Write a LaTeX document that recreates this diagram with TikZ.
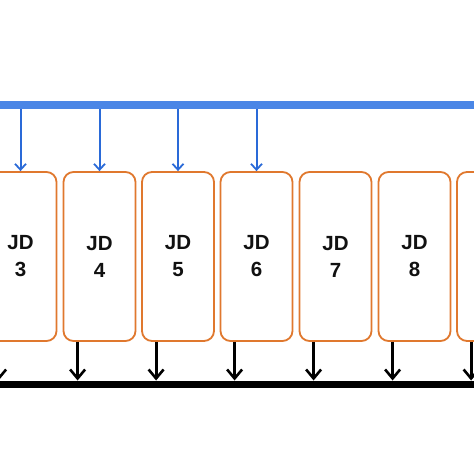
\documentclass[tikz,border=0pt]{standalone}
\usepackage{fontspec}
\setmainfont{Liberation Sans}
\usetikzlibrary{arrows.meta,calc}
\definecolor{boxorange}{HTML}{E0782E}
\definecolor{barblue}{HTML}{4A86E6}
\definecolor{arrblue}{HTML}{2A6AD8}
\definecolor{textgray}{HTML}{111111}
\tikzset{
  jdbox/.style={draw=boxorange, line width=1.8pt, rounded corners=10pt, minimum width=72pt, minimum height=169pt, inner sep=0pt, align=center, font=\fontsize{20.5}{27}\selectfont\bfseries, text=textgray, fill=white},
  bluearr/.style={draw=arrblue, line width=2pt, -{Straight Barb[length=6pt,width=11pt,line width=1.8pt]}},
  blackarr/.style={draw=black, line width=3pt, -{Straight Barb[length=9pt,width=15pt,line width=2.6pt]}},
}
\begin{document}
\begin{tikzpicture}[x=1pt,y=-1pt]
\useasboundingbox (0,0) rectangle (474,474);
\clip (0,0) rectangle (474,474);
\fill[white] (0,0) rectangle (474,474);
% bars
\draw[barblue, line width=8pt] (0,105) coordinate (bl) -- (474,105) coordinate (br);
\draw[black, line width=7pt] (0,384) coordinate (kl) -- (474,384) coordinate (kr);
% boxes
\node[jdbox] (b3) at (20.5,256.5) {JD\\3};
\node[jdbox] (b4) at (99.5,256.5) {JD\\4};
\node[jdbox] (b5) at (178,256.5) {JD\\5};
\node[jdbox] (b6) at (256.5,256.5) {JD\\6};
\node[jdbox] (b7) at (335.5,256.5) {JD\\7};
\node[jdbox] (b8) at (414.5,256.5) {JD\\8};
\node[jdbox] (b9) at (493,256.5) {};
% blue arrows
\foreach \b in {b3,b4,b5,b6}{
  \coordinate (t\b) at ($(bl)!(\b.north)!(br)$);
  \draw[bluearr] ($(t\b)+(0,4)$) -- (\b.north);
}
% black arrows
\foreach \b in {b3,b4,b5,b6,b7,b8,b9}{
  \coordinate (s\b) at ($(\b.south west)+(15,0)$);
  \coordinate (e\b) at ($(kl)!(s\b)!(kr)$);
  \draw[blackarr] (s\b) -- ($(e\b)+(0,-3.5)$);
}
\end{tikzpicture}
\end{document}
